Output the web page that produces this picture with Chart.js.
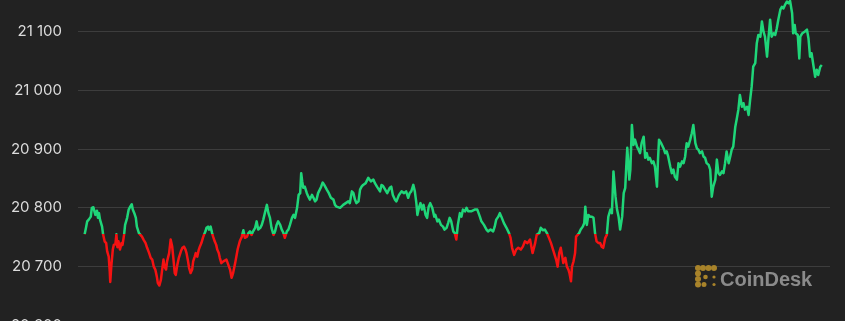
<!DOCTYPE html>
<html>
<head>
<meta charset="utf-8">
<script src="https://cdn.jsdelivr.net/npm/chart.js@4"></script>
<style>
  html, body { margin: 0; padding: 0; background: #222222; overflow: hidden; }
  #chartBtc { position: absolute; left: 0; top: -25px; }
  #logo { position: absolute; left: 695px; top: 265px; height: 24px; }
  #logo svg { position: absolute; left: 0; top: 0; }
  #logo span {
    position: absolute; left: 25px; top: 3px; line-height: 20px;
    font: bold 20px "Liberation Sans", Arial, sans-serif; color: #8b8b8b; white-space: nowrap;
  }
</style>
</head>
<body>
<canvas id="chartBtc" width="845" height="396"></canvas>
<div id="logo">
  <svg width="23" height="23" viewBox="0 0 23 23">
    <g fill="#a8832a">
      <circle cx="3" cy="3" r="3"/><circle cx="8" cy="3" r="3"/><circle cx="13.5" cy="3" r="3"/><circle cx="19" cy="3" r="3"/>
      <circle cx="3" cy="8.5" r="3"/><circle cx="3" cy="14" r="3"/><circle cx="3" cy="19.5" r="3"/>
      <circle cx="10.5" cy="12" r="2.3"/><circle cx="9" cy="19.5" r="2.5"/>
      <circle cx="19" cy="12" r="1.6"/><circle cx="19" cy="19.5" r="1.6"/>
    </g>
  </svg>
  <span>CoinDesk</span>
</div>
<script>
// minutes since start of window
const minutes = [0,3,5,8,12,14,17,20,21,24,26,28,30,34,36,39,42,44,47,49,50,52,55,57,60,62,64,66,69,72,74,77,79,83,86,89,92,94,97,100,102,106,109,112,115,119,122,126,129,132,135,138,141,143,146,149,151,154,156,159,161,165,168,171,173,176,178,181,184,188,191,194,197,199,202,204,207,210,212,215,217,220,223,225,228,231,233,236,238,241,243,246,249,251,254,257,259,262,264,267,271,277,284,287,290,294,299,303,307,310,313,317,320,323,326,329,333,336,339,343,346,349,352,356,359,362,365,369,372,375,378,382,385,388,391,395,398,401,405,408,411,415,418,421,423,425,427,430,434,437,440,444,447,450,453,456,462,465,468,473,477,481,486,489,492,499,505,510,515,518,522,525,528,531,535,538,541,544,549,554,559,564,567,571,577,580,583,587,591,596,599,602,606,609,614,619,624,628,632,635,638,642,645,648,650,653,656,659,662,666,669,672,675,679,683,685,689,692,696,700,703,707,710,713,716,720,723,726,729,733,736,739,743,746,749,755,762,767,772,775,780,785,788,793,798,801,804,808,811,814,819,824,829,832,835,839,843,847,852,856,860,865,870,875,880,883,888,891,895,899,903,906,911,916,921,924,927,930,933,935,939,942,945,947,950,952,955,958,960,963,966,969,973,976,978,981,984,987,991,994,997,1000,1004,1007,1010,1013,1017,1020,1023,1027,1030,1033,1037,1040,1043,1046,1050,1053,1056,1058,1060,1064,1066,1069,1072,1075,1079,1082,1085,1088,1092,1095,1098,1101,1104,1108,1111,1114,1118,1120,1122,1126,1131,1134,1137,1140,1144,1147,1150,1153,1157,1160,1163,1167,1170,1173,1176,1179,1183,1186,1189,1193,1196,1199,1202,1206,1209,1212,1215,1219,1222,1225,1228,1232,1235,1238,1241,1245,1248,1251,1254,1258,1261,1264,1267,1271,1274,1277,1280,1284,1287,1290,1294,1297,1300,1303,1306,1310,1313,1316,1320,1323,1326,1329,1333,1336,1339,1342,1346,1349,1352,1355,1359,1362,1365,1368,1372,1375,1378,1382,1384,1387,1389,1393,1396,1398,1402,1407,1411,1414,1417,1420,1424,1427,1430,1433,1437,1440];

const prices = [20755,20768,20777,20780,20785,20800,20801,20791,20788,20795,20783,20791,20780,20768,20755,20743,20740,20726,20717,20692,20674,20700,20729,20737,20738,20755,20733,20743,20729,20740,20737,20754,20771,20783,20797,20802,20806,20797,20791,20783,20768,20757,20754,20751,20746,20740,20732,20723,20715,20712,20700,20695,20683,20672,20668,20678,20692,20712,20700,20695,20709,20723,20746,20734,20717,20689,20686,20703,20715,20726,20732,20734,20729,20723,20709,20698,20689,20695,20709,20717,20723,20717,20729,20734,20740,20749,20754,20760,20766,20768,20763,20768,20757,20751,20743,20737,20729,20723,20715,20706,20709,20712,20695,20681,20689,20706,20730,20743,20751,20762,20749,20751,20757,20760,20754,20760,20766,20777,20763,20766,20771,20780,20791,20805,20791,20783,20766,20754,20760,20771,20777,20771,20763,20758,20749,20760,20763,20771,20783,20788,20783,20800,20822,20825,20859,20845,20834,20836,20825,20819,20814,20822,20817,20811,20814,20825,20836,20843,20839,20831,20825,20817,20814,20805,20802,20800,20805,20808,20811,20808,20828,20825,20814,20808,20811,20831,20836,20839,20842,20851,20845,20848,20842,20836,20828,20839,20837,20831,20825,20834,20836,20822,20814,20811,20822,20828,20825,20828,20817,20825,20828,20839,20828,20808,20788,20800,20808,20797,20805,20788,20783,20802,20808,20800,20785,20788,20777,20780,20771,20768,20763,20766,20774,20783,20777,20760,20757,20746,20771,20791,20785,20797,20794,20800,20794,20794,20797,20797,20785,20777,20771,20763,20760,20763,20760,20768,20780,20785,20791,20785,20774,20766,20757,20749,20732,20720,20729,20732,20729,20734,20743,20740,20746,20723,20740,20754,20757,20766,20762,20763,20757,20751,20740,20726,20712,20700,20723,20732,20717,20706,20715,20700,20695,20689,20675,20700,20709,20723,20751,20754,20757,20763,20768,20774,20802,20771,20788,20785,20785,20783,20757,20743,20740,20740,20734,20732,20749,20754,20785,20797,20791,20862,20819,20797,20785,20763,20785,20825,20834,20870,20902,20848,20865,20941,20907,20916,20904,20899,20893,20910,20921,20885,20893,20882,20885,20876,20879,20870,20836,20882,20916,20910,20901,20893,20896,20887,20870,20859,20865,20853,20848,20876,20870,20879,20876,20887,20910,20904,20916,20927,20941,20910,20901,20899,20893,20896,20887,20885,20876,20873,20865,20819,20836,20848,20882,20859,20856,20862,20859,20876,20896,20876,20887,20899,20904,20938,20952,20967,20992,20972,20978,20967,20972,20958,20984,21006,21040,21046,21080,21094,21091,21117,21100,21091,21057,21091,21120,21091,21097,21094,21105,21120,21137,21142,21139,21145,21151,21148,21152,21131,21097,21111,21097,21094,21054,21091,21097,21100,21103,21088,21057,21063,21040,21023,21035,21026,21040,21043];

const yTicks = [20600, 20700, 20800, 20900, 21000, 21100];
const baseline = prices[0];

const upColor = '#1fd679';
const downColor = '#f51212';

function splitColor(context) {
    const chart = context.chart;
    const area = chart.chartArea;
    if (!area) return upColor;
    const yb = chart.scales.y.getPixelForValue(baseline);
    let f = (yb - area.top) / (area.bottom - area.top);
    f = Math.min(Math.max(f, 0), 1);
    const g = chart.ctx.createLinearGradient(0, area.top, 0, area.bottom);
    g.addColorStop(0, upColor);
    g.addColorStop(f, upColor);
    g.addColorStop(f, downColor);
    g.addColorStop(1, downColor);
    return g;
}

const points = minutes.map((m, i) => ({ x: m, y: prices[i] }));

const ctx = document.getElementById("chartBtc").getContext('2d');
new Chart(ctx, {
    type: "line",
    data: {
        datasets: [{
            data: points,
            borderColor: splitColor,
            borderWidth: 2.5,
            pointRadius: 0,
            tension: 0,
            borderJoinStyle: 'round',
            fill: false
        }]
    },
    options: {
        responsive: false,
        animation: false,
        devicePixelRatio: 1,
        layout: { padding: { left: 0, right: 15, top: 0, bottom: 0 } },
        plugins: {
            legend: { display: false },
            tooltip: { enabled: false }
        },
        scales: {
            x: {
                type: 'linear',
                display: false,
                min: -13,
                max: 1456
            },
            y: {
                min: 20565,
                max: 21153.5,
                afterBuildTicks: function (scale) {
                    scale.ticks = yTicks.map(v => ({ value: v }));
                },
                afterFit: function (scale) {
                    scale.width = 78;
                },
                border: { display: false },
                grid: {
                    color: '#3d3d3d',
                    lineWidth: 1,
                    drawTicks: false
                },
                ticks: {
                    padding: 16,
                    color: '#dcdcdc',
                    font: { family: 'Inter, "Liberation Sans", sans-serif', size: 15 },
                    callback: function (value) {
                        return String(value).replace(/\B(?=(\d{3})+$)/, ' ');
                    }
                }
            }
        }
    }
});
</script>
</body>
</html>
